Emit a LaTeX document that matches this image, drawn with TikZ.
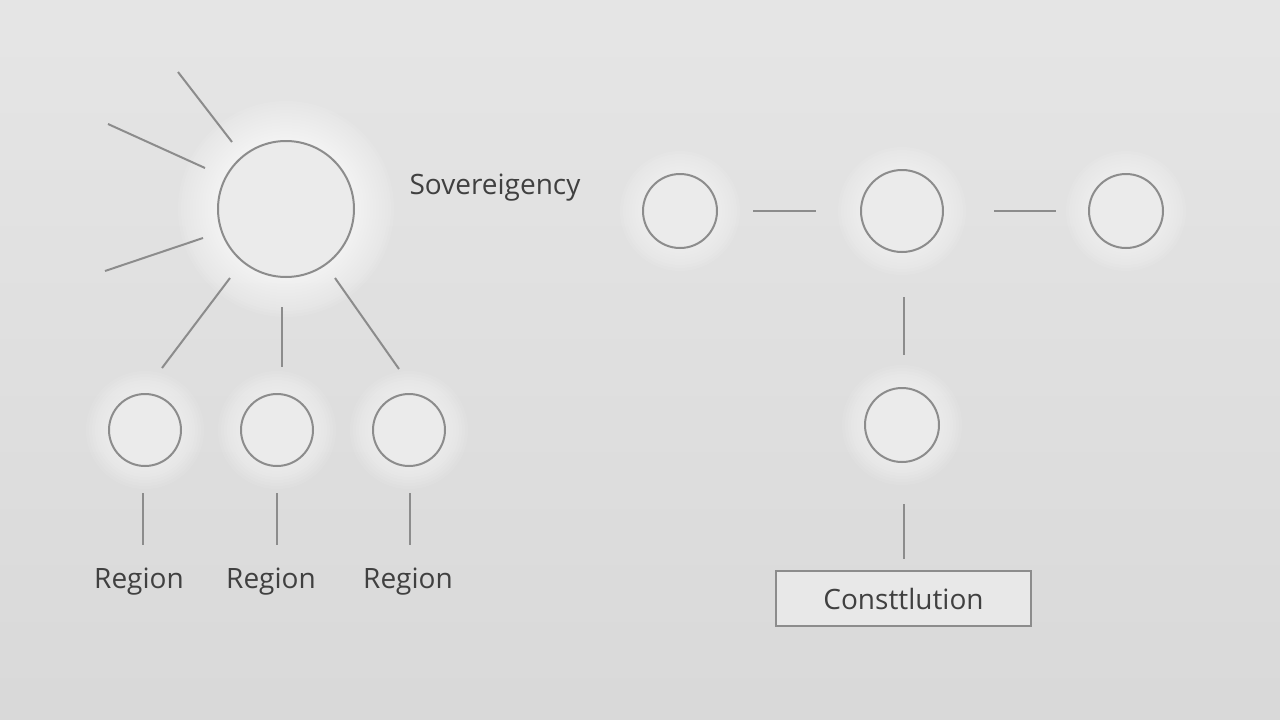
\documentclass[tikz,border=0pt]{standalone}
\usepackage{fontspec}
\setmainfont{Open Sans}
\begin{document}
\begin{tikzpicture}[x=1pt,y=-1pt,
  linecol/.style={draw=black!45, line width=2pt},
  ring/.style={circle, draw=black!45, line width=2pt, fill=black!8, inner sep=0pt},
  label/.style={text=black!75, inner sep=0pt, font=\fontsize{28}{32}\selectfont},
  boxlabel/.style={draw=black!45, line width=1.6pt, fill=black!9, text=black!75, minimum width=255pt, minimum height=55pt, inner sep=0pt, font=\fontsize{28}{32}\selectfont},
]
\newcommand{\myglow}[4]{\foreach \k in {1,...,#4} \fill[white, opacity=0.08] (#1,#2) circle[radius=#3+\k*3];}
% background
\shade[top color=black!10, bottom color=black!15] (0,0) rectangle (1280,720);
\useasboundingbox (0,0) rectangle (1280,720);
% glows
\myglow{286}{209}{60}{16}
\myglow{145}{430}{32}{9}
\myglow{277}{430}{32}{9}
\myglow{409}{430}{32}{9}
\myglow{680}{211}{33}{9}
\myglow{902}{211}{37}{9}
\myglow{1126}{211}{33}{9}
\myglow{902}{425}{33}{9}
% left tree
\node[ring, minimum size=136pt] (sun) at (286,209) {};
\node[ring, minimum size=72pt] (r1) at (145,430) {};
\node[ring, minimum size=72pt] (r2) at (277,430) {};
\node[ring, minimum size=72pt] (r3) at (409,430) {};
\node[label] (sov) at (495,188) {Sovereigency};
\node[label] (l1) at (139,582) {Region};
\node[label] (l2) at (271,582) {Region};
\node[label] (l3) at (408,582) {Region};
% rays
\coordinate (a1) at (232,142); \coordinate (b1) at (178,72);
\coordinate (a2) at (205,168); \coordinate (b2) at (108,124);
\coordinate (a3) at (203,238); \coordinate (b3) at (105,271);
\coordinate (a4) at (230,278); \coordinate (b4) at (162,368);
\coordinate (a5) at (282,307); \coordinate (b5) at (282,367);
\coordinate (a6) at (335,278); \coordinate (b6) at (399,369);
\foreach \i in {1,...,6} \draw[linecol] (a\i) -- (b\i);
% region stems
\draw[linecol] ([xshift=-2pt,yshift=-26pt]r1.south) -- ++(0,52);
\draw[linecol] ([yshift=-26pt]r2.south) -- ++(0,52);
\draw[linecol] ([xshift=1pt,yshift=-26pt]r3.south) -- ++(0,52);
% right structure
\node[ring, minimum size=74pt] (c1) at (680,211) {};
\node[ring, minimum size=82pt] (c2) at (902,211) {};
\node[ring, minimum size=74pt] (c3) at (1126,211) {};
\node[ring, minimum size=74pt] (c4) at (902,425) {};
\node[boxlabel] (con) at (903.5,598.5) {Consttlution};
\draw[linecol, shorten <=35pt, shorten >=44pt] (c1) -- (c2);
\draw[linecol, shorten <=50pt, shorten >=32pt] (c2) -- (c3);
\draw[linecol] ([xshift=2pt,yshift=-44pt]c2.south) -- ++(0,58);
\draw[linecol] ([xshift=2pt,yshift=-41pt]c4.south) -- ++(0,55);
\end{tikzpicture}
\end{document}
